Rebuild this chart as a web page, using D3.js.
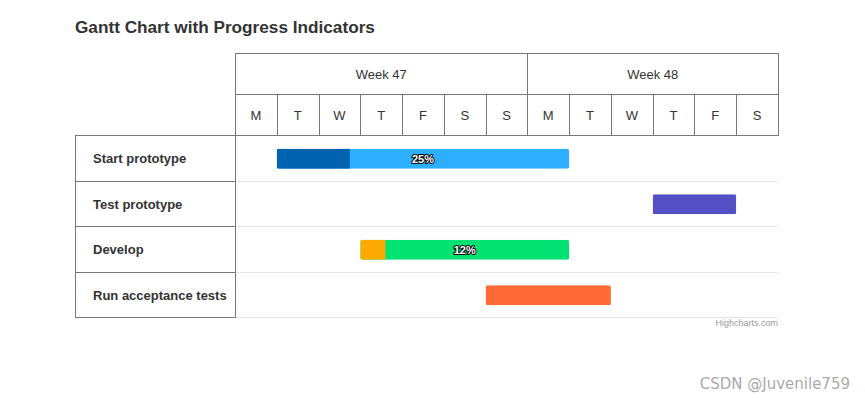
<!DOCTYPE html>
<html>
<head>
<meta charset="utf-8">
<script src="https://cdn.jsdelivr.net/npm/d3@7"></script>
<style>
  body { margin: 0; background: #fff; font-family: "Liberation Sans", Arial, Helvetica, sans-serif; }
</style>
</head>
<body>
<div id="chart"></div>
<script>
// data
const taskNames = ["Start prototype", "Test prototype", "Develop", "Run acceptance tests"];
const taskStarts = ["2014-11-18", "2014-11-27", "2014-11-20", "2014-11-23"];
const taskEnds = ["2014-11-25", "2014-11-29", "2014-11-25", "2014-11-26"];
const taskCompleted = [0.25, null, 0.12, null];
const axisRange = ["2014-11-17", "2014-11-30"];
const dayLabels = ["M", "T", "W", "T", "F", "S", "S", "M", "T", "W", "T", "F", "S"];
const weekLabels = ["Week 47", "Week 48"];

const barColors = ["#2caffe", "#544fc5", "#00e272", "#fe6a35"];
const doneColors = ["#0063b2", null, "#ffaa00", null];

const width = 865, height = 398;
const parse = d3.timeParse("%Y-%m-%d");

const svg = d3.select("#chart").append("svg")
    .attr("width", width)
    .attr("height", height);

svg.append("text")
    .attr("x", 75)
    .attr("y", 33)
    .attr("font-size", 17.2)
    .attr("font-weight", "bold")
    .attr("fill", "#333")
    .text("Gantt Chart with Progress Indicators");

const x = d3.scaleTime()
    .domain(axisRange.map(parse))
    .range([235, 778]);

const y = d3.scaleBand()
    .domain(taskNames)
    .range([135, 317]);

const headTop = 53, headMid = 94, headBot = 135;
const gridColor = "#777";

// header rows
const days = d3.timeDay.range(x.domain()[0], x.domain()[1]);
const weeks = d3.timeMonday.range(x.domain()[0], x.domain()[1]);

const head = svg.append("g");
head.append("rect")
    .attr("x", x.range()[0] + 0.5).attr("y", headTop + 0.5)
    .attr("width", x.range()[1] - x.range()[0]).attr("height", headBot - headTop)
    .attr("fill", "none").attr("stroke", gridColor);
head.append("line")
    .attr("x1", x.range()[0]).attr("x2", x.range()[1])
    .attr("y1", headMid + 0.5).attr("y2", headMid + 0.5)
    .attr("stroke", gridColor);

weeks.forEach((w, i) => {
    const x0 = Math.max(x(w), x.range()[0]);
    const x1 = Math.min(x(d3.timeDay.offset(w, 7)), x.range()[1]);
    if (i > 0) {
        head.append("line")
            .attr("x1", Math.round(x0) + 0.5).attr("x2", Math.round(x0) + 0.5)
            .attr("y1", headTop).attr("y2", headBot)
            .attr("stroke", gridColor);
    }
    head.append("text")
        .attr("x", (x0 + x1) / 2)
        .attr("y", (headTop + headMid) / 2 + 5)
        .attr("text-anchor", "middle")
        .attr("font-size", 13)
        .attr("fill", "#333")
        .text(weekLabels[i]);
});

days.forEach((d, i) => {
    if (i > 0) {
        head.append("line")
            .attr("x1", Math.round(x(d)) + 0.5).attr("x2", Math.round(x(d)) + 0.5)
            .attr("y1", headMid).attr("y2", headBot)
            .attr("stroke", gridColor);
    }
    head.append("text")
        .attr("x", x(d3.timeHour.offset(d, 12)))
        .attr("y", (headMid + headBot) / 2 + 5)
        .attr("text-anchor", "middle")
        .attr("font-size", 13)
        .attr("fill", "#333")
        .text(dayLabels[i]);
});

// row grid lines in plot area
taskNames.forEach(name => {
    svg.append("line")
        .attr("x1", x.range()[0]).attr("x2", x.range()[1])
        .attr("y1", Math.round(y(name) + y.bandwidth()) + 0.5)
        .attr("y2", Math.round(y(name) + y.bandwidth()) + 0.5)
        .attr("stroke", "#e6e6e6");
});

// left task table
const table = svg.append("g");
table.append("rect")
    .attr("x", 75.5).attr("y", headBot + 0.5)
    .attr("width", 235 - 75).attr("height", y.range()[1] - headBot)
    .attr("fill", "none").attr("stroke", gridColor);
taskNames.forEach((name, i) => {
    if (i > 0) {
        table.append("line")
            .attr("x1", 75).attr("x2", 235)
            .attr("y1", Math.round(y(name)) + 0.5).attr("y2", Math.round(y(name)) + 0.5)
            .attr("stroke", gridColor);
    }
    table.append("text")
        .attr("x", 93)
        .attr("y", y(name) + y.bandwidth() / 2 + 5.5)
        .attr("font-size", 13)
        .attr("font-weight", "bold")
        .attr("fill", "#333")
        .text(name);
});

// bars
const barH = 20;
taskNames.forEach((name, i) => {
    const s = parse(taskStarts[i]), e = parse(taskEnds[i]);
    const x0 = x(s), x1 = x(e);
    const yc = y(name) + y.bandwidth() / 2 + 1;
    const clipId = "clip" + i;
    svg.append("clipPath").attr("id", clipId)
        .append("rect")
        .attr("x", x0).attr("y", yc - barH / 2)
        .attr("width", x1 - x0).attr("height", barH)
        .attr("rx", 2).attr("ry", 2);
    const g = svg.append("g").attr("clip-path", `url(#${clipId})`);
    g.append("rect")
        .attr("x", x0).attr("y", yc - barH / 2)
        .attr("width", x1 - x0).attr("height", barH)
        .attr("fill", barColors[i]);
    if (taskCompleted[i] != null) {
        g.append("rect")
            .attr("x", x0).attr("y", yc - barH / 2)
            .attr("width", (x1 - x0) * taskCompleted[i]).attr("height", barH)
            .attr("fill", doneColors[i]);
        svg.append("text")
            .attr("x", (x0 + x1) / 2)
            .attr("y", yc + 4)
            .attr("text-anchor", "middle")
            .attr("font-size", 11)
            .attr("font-weight", "bold")
            .attr("fill", "#fff")
            .attr("stroke", "#000")
            .attr("stroke-width", 2)
            .attr("stroke-linejoin", "round")
            .attr("paint-order", "stroke")
            .text(d3.format(".0%")(taskCompleted[i]));
    }
});

// credits
svg.append("text")
    .attr("x", 778)
    .attr("y", 326)
    .attr("text-anchor", "end")
    .attr("font-size", 9)
    .attr("fill", "#999")
    .text("Highcharts.com");

svg.append("text")
    .attr("x", 850)
    .attr("y", 389)
    .attr("text-anchor", "end")
    .attr("font-size", 15)
    .attr("fill", "#aaa")
    .attr("font-family", "'DejaVu Sans', sans-serif")
    .text("CSDN @Juvenile759");
</script>
</body>
</html>
